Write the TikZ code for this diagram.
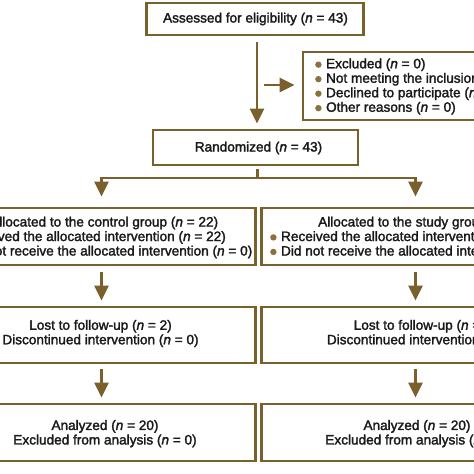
\documentclass[tikz,border=0pt]{standalone}
\usepackage{fontspec}
\setmainfont[FakeBold=2]{Liberation Sans}
\usetikzlibrary{arrows.meta,calc}
\definecolor{brn}{RGB}{122,96,44}
\definecolor{bulc}{RGB}{140,112,62}
\definecolor{ink}{RGB}{25,25,25}
\newcommand\bul{\tikz[baseline=-3.6pt]\fill[bulc] (0,0) circle[radius=3.2pt];\hspace{4.5pt}}
\tikzset{
  box/.style={draw=brn, line width=2.8pt, rectangle, inner sep=0pt},
  txt/.style={text=ink, font=\fontsize{13.6}{14.5}\selectfont, inner sep=0pt, align=center},
  lst/.style={txt, align=left},
  arr/.style={draw=brn, line width=2.8pt, -{Triangle[width=14pt,length=15pt]}},
  ln/.style={draw=brn, line width=2.8pt},
}
\begin{document}
\begin{tikzpicture}[x=1pt,y=-1pt]
\useasboundingbox (0,0) rectangle (474,474);
\clip (0,0) rectangle (474,474);
% boxes
\node[box, minimum width=217pt, minimum height=32pt] (assess) at (255,19) {};
\node[txt] (tassess) at (255.5,19) {Assessed for eligibility (\textit{n} = 43)};
\node[box, minimum width=220pt, minimum height=68pt] (excl) at (413,86) {};
\node[lst, anchor=west] (texcl) at (315,86.5) {\bul Excluded (\textit{n} = 0)\\
  \bul Not meeting the inclusion criteria (\textit{n} = 0)\\
  \bul Declined to participate (\textit{n} = 0)\\
  \bul Other reasons (\textit{n} = 0)};
\node[box, minimum width=205pt, minimum height=35pt] (rand) at (255.5,147.5) {};
\node[txt] (trand) at (258.5,148) {Randomized (\textit{n} = 43)};
\node[box, minimum width=308pt, minimum height=57pt] (ctrl) at (101.5,236.5) {};
\node[lst, anchor=west] (tctrl) at (-48,237.5) {\hspace*{38pt}Allocated to the control group (\textit{n} = 22)\\
  \bul Received the allocated intervention (\textit{n} = 22)\\
  \bul Did not receive the allocated intervention (\textit{n} = 0)};
\node[box, minimum width=308pt, minimum height=57pt] (study) at (415.5,236.5) {};
\node[lst, anchor=west] (tstudy) at (270,237.5) {\hspace*{48pt}Allocated to the study group (\textit{n} = 22)\\
  \bul Received the allocated intervention (\textit{n} = 22)\\
  \bul Did not receive the allocated intervention (\textit{n} = 0)};
\node[box, minimum width=308pt, minimum height=56pt] (lost1) at (101.5,335) {};
\node[txt] (tlost1) at (100.5,333.5) {Lost to follow-up (\textit{n} = 2)\\Discontinued intervention (\textit{n} = 0)};
\node[box, minimum width=308pt, minimum height=56pt] (lost2) at (415.5,335) {};
\node[txt] (tlost2) at (425,333.5) {Lost to follow-up (\textit{n} = 2)\\Discontinued intervention (\textit{n} = 0)};
\node[box, minimum width=308pt, minimum height=57pt] (anal1) at (101.5,432.5) {};
\node[txt] (tanal1) at (105,433.7) {Analyzed (\textit{n} = 20)\\Excluded from analysis (\textit{n} = 0)};
\node[box, minimum width=308pt, minimum height=57pt] (anal2) at (415.5,432.5) {};
\node[txt] (tanal2) at (417,433.7) {Analyzed (\textit{n} = 20)\\Excluded from analysis (\textit{n} = 0)};
% connectors
\coordinate (j1) at (257,85);
\coordinate (s1) at (264,85);
\coordinate (split) at (257.5,178);
\draw[arr, shorten <=6pt, shorten >=5pt] (assess.south -| j1) -- (rand.north -| j1);
\draw[arr, shorten >=7pt] (s1) -- (s1 -| excl.west);
\draw[ln, shorten <=3pt] (rand.south -| split) -- (split);
\draw[arr, shorten >=10pt] (split) -| (ctrl.north);
\draw[arr, shorten >=10pt] (split) -| (study.north);
\draw[arr, shorten <=6pt, shorten >=5pt] (ctrl.south) -- (lost1.north);
\draw[arr, shorten <=6pt, shorten >=5pt] (study.south) -- (lost2.north);
\draw[arr, shorten <=5pt, shorten >=5pt] (lost1.south) -- (anal1.north);
\draw[arr, shorten <=5pt, shorten >=5pt] (lost2.south) -- (anal2.north);
\end{tikzpicture}
\end{document}
